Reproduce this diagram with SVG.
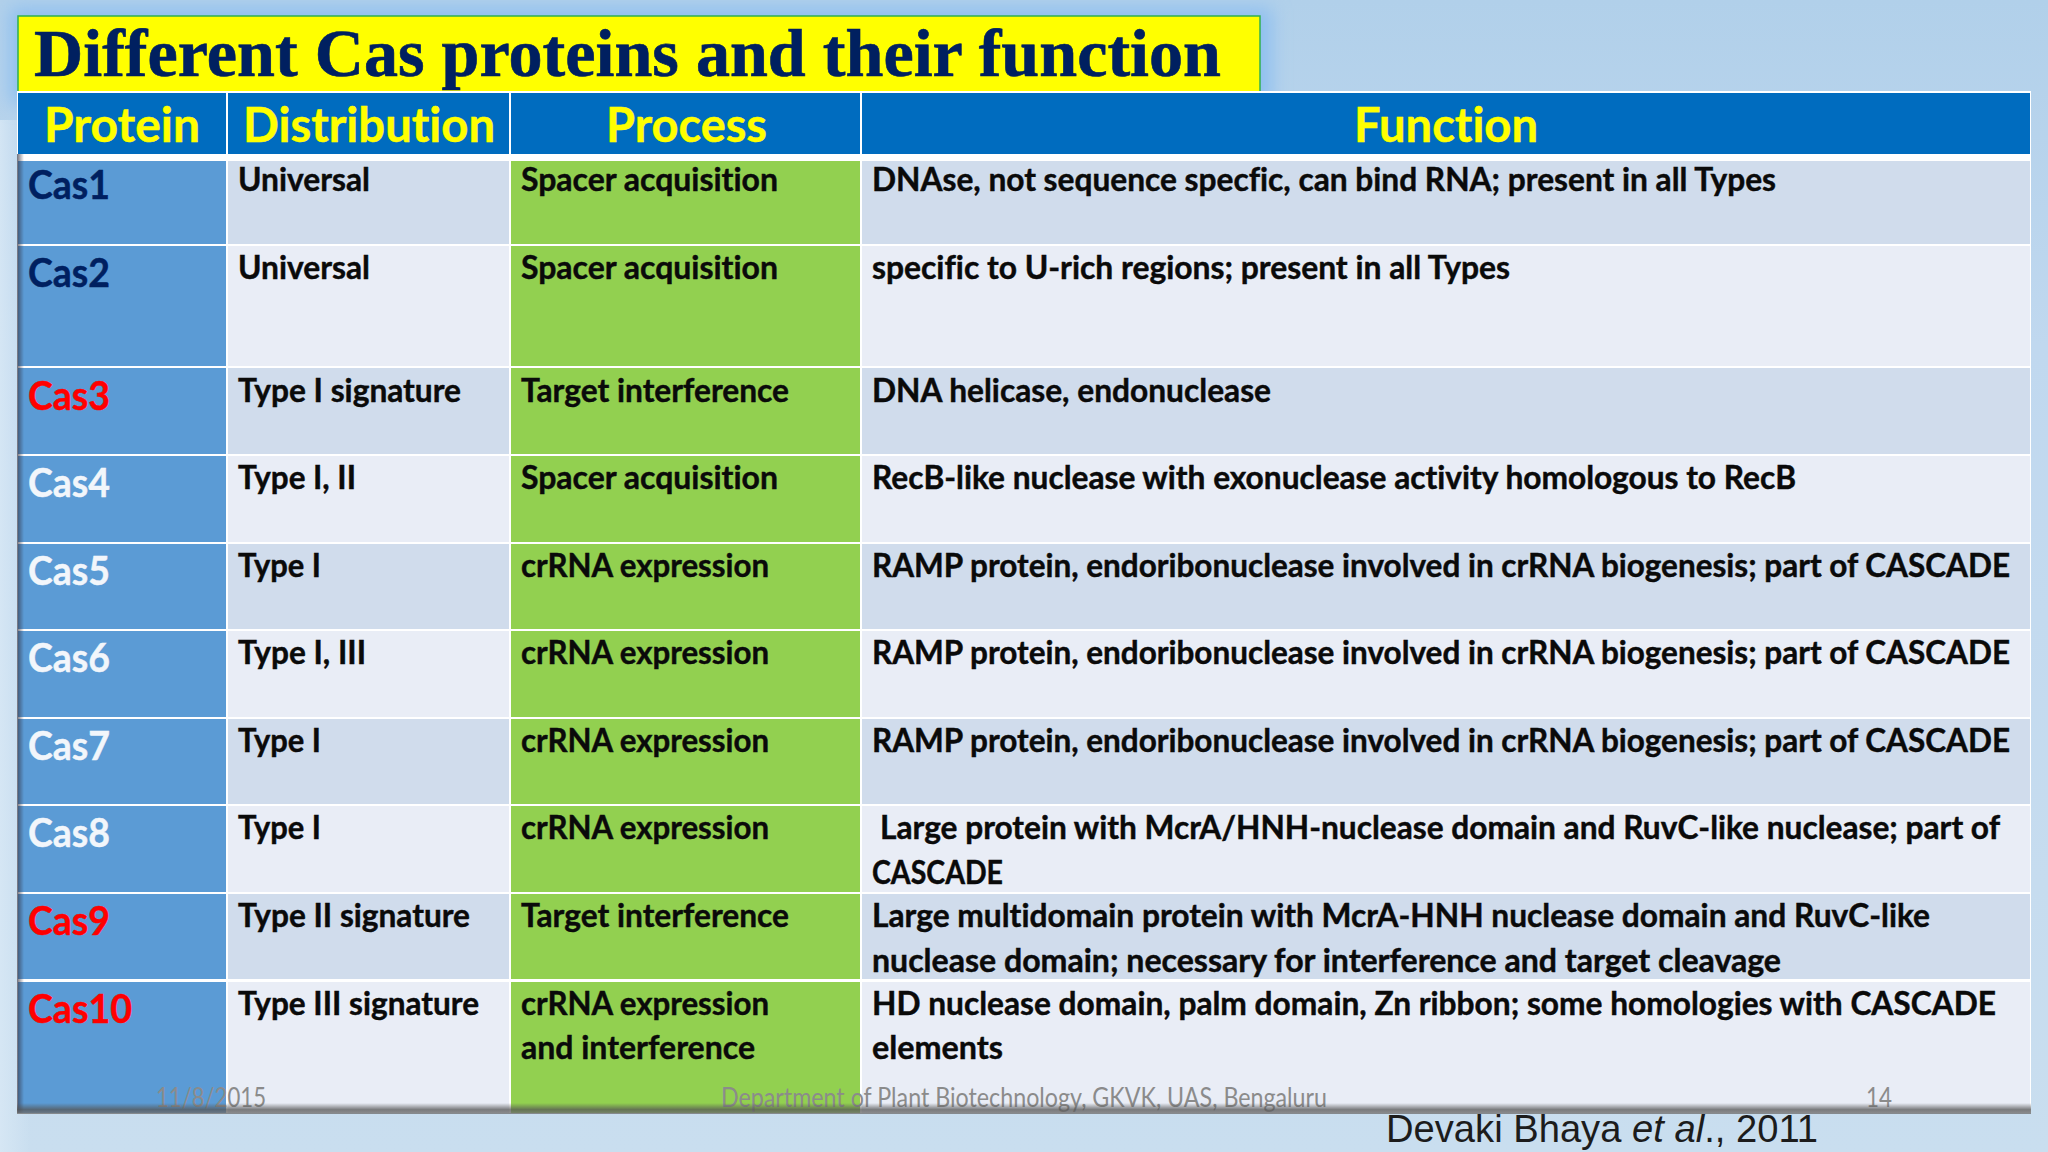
<svg xmlns="http://www.w3.org/2000/svg" width="2048" height="1152" viewBox="0 0 2048 1152">
<style>
text{font-family:"Lato","Liberation Sans",sans-serif;font-weight:700;font-variant-ligatures:none}
.h,.c,.t{transform:translateY(1px);stroke-width:.45px;paint-order:stroke}
.h{font-size:48px;fill:#ffff00;stroke:#ffff00}
.c{font-size:40px}
.t{font-size:33px;fill:#0a0a0a;stroke:#0a0a0a}
.n{fill:#002060;stroke:#002060}.r{fill:#ff0000;stroke:#ff0000}.w{fill:#f2f6fb;stroke:#f2f6fb}
.f{font-size:26px;font-weight:400;fill:#8b8b8b}
.blue{fill:#5b9bd5}.a{fill:#d0dcec}.b{fill:#e9edf6}.g{fill:#92d050}
</style>
<defs>
<linearGradient id="bg" x1="0" y1="0" x2="0" y2="1"><stop offset="0" stop-color="#b1d0ea"/><stop offset=".3" stop-color="#c0d8ef"/><stop offset="1" stop-color="#c9deef"/></linearGradient>
<linearGradient id="side" x1="0" y1="0" x2="1" y2="0"><stop offset="0" stop-color="#d8e8f5" stop-opacity=".85"/><stop offset="1" stop-color="#d8e8f5" stop-opacity="0"/></linearGradient>
<linearGradient id="sh" x1="0" y1="0" x2="0" y2="1"><stop offset="0" stop-color="#555" stop-opacity="0"/><stop offset=".6" stop-color="#555" stop-opacity=".75"/><stop offset="1" stop-color="#777" stop-opacity=".8"/></linearGradient>
<linearGradient id="ls" x1="0" y1="0" x2="1" y2="0"><stop offset="0" stop-color="#334" stop-opacity=".7"/><stop offset="1" stop-color="#334" stop-opacity="0"/></linearGradient>
<filter id="glow" x="-5%" y="-30%" width="110%" height="160%"><feGaussianBlur stdDeviation="9"/></filter>
</defs>
<rect width="2048" height="1152" fill="url(#bg)"/>
<rect x="0" y="120" width="30" height="1032" fill="url(#side)"/>
<rect x="10" y="8" width="1262" height="96" fill="#8fc0f0" filter="url(#glow)"/>
<g id="title">
<rect x="18" y="16" width="1242" height="76" fill="#ffff00" stroke="#2fb04f" stroke-width="1.5"/>
<text x="34" y="76" textLength="1187" lengthAdjust="spacingAndGlyphs" style="font-family:'Liberation Serif',serif;font-size:68px;fill:#002060;stroke:#002060;stroke-width:.6px">Different Cas proteins and their function</text>
</g>
<g id="table">
<rect x="17" y="91" width="2014" height="1022" fill="#fff"/>
<g id="header" fill="#006cbf">
<rect x="18" y="93" width="208" height="61"/><rect x="228" y="93" width="281" height="61"/><rect x="511" y="93" width="349" height="61"/><rect x="862" y="93" width="1168" height="61"/>
<text class="h" x="44" y="141" textLength="156" lengthAdjust="spacingAndGlyphs">Protein</text>
<text class="h" x="243" y="141" textLength="252" lengthAdjust="spacingAndGlyphs">Distribution</text>
<text class="h" x="606" y="141" textLength="161" lengthAdjust="spacingAndGlyphs">Process</text>
<text class="h" x="1354" y="141" textLength="184" lengthAdjust="spacingAndGlyphs">Function</text>
</g>
<g id="cas1"><rect class="blue" x="18" y="161" width="208" height="83"/><rect class="a" x="228" y="161" width="281" height="83"/><rect class="g" x="511" y="161" width="349" height="83"/><rect class="a" x="862" y="161" width="1168" height="83"/>
<text class="c n" x="28" y="198" textLength="82" lengthAdjust="spacingAndGlyphs">Cas1</text><text class="t" x="238" y="190" textLength="132" lengthAdjust="spacingAndGlyphs">Universal</text><text class="t" x="521" y="190" textLength="257" lengthAdjust="spacingAndGlyphs">Spacer acquisition</text><text class="t" x="872" y="190" textLength="904" lengthAdjust="spacingAndGlyphs">DNAse, not sequence specfic, can bind RNA; present in all Types</text></g>
<g id="cas2"><rect class="blue" x="18" y="246" width="208" height="120"/><rect class="b" x="228" y="246" width="281" height="120"/><rect class="g" x="511" y="246" width="349" height="120"/><rect class="b" x="862" y="246" width="1168" height="120"/>
<text class="c n" x="28" y="286" textLength="82" lengthAdjust="spacingAndGlyphs">Cas2</text><text class="t" x="238" y="278" textLength="132" lengthAdjust="spacingAndGlyphs">Universal</text><text class="t" x="521" y="278" textLength="257" lengthAdjust="spacingAndGlyphs">Spacer acquisition</text><text class="t" x="872" y="278" textLength="638" lengthAdjust="spacingAndGlyphs">specific to U-rich regions; present in all Types</text></g>
<g id="cas3"><rect class="blue" x="18" y="368" width="208" height="86"/><rect class="a" x="228" y="368" width="281" height="86"/><rect class="g" x="511" y="368" width="349" height="86"/><rect class="a" x="862" y="368" width="1168" height="86"/>
<text class="c r" x="28" y="409" textLength="82" lengthAdjust="spacingAndGlyphs">Cas3</text><text class="t" x="238" y="401" textLength="223" lengthAdjust="spacingAndGlyphs">Type I signature</text><text class="t" x="521" y="401" textLength="268" lengthAdjust="spacingAndGlyphs">Target interference</text><text class="t" x="872" y="401" textLength="399" lengthAdjust="spacingAndGlyphs">DNA helicase, endonuclease</text></g>
<g id="cas4"><rect class="blue" x="18" y="456" width="208" height="86"/><rect class="b" x="228" y="456" width="281" height="86"/><rect class="g" x="511" y="456" width="349" height="86"/><rect class="b" x="862" y="456" width="1168" height="86"/>
<text class="c w" x="28" y="496" textLength="82" lengthAdjust="spacingAndGlyphs">Cas4</text><text class="t" x="238" y="488" textLength="118" lengthAdjust="spacingAndGlyphs">Type I, II</text><text class="t" x="521" y="488" textLength="257" lengthAdjust="spacingAndGlyphs">Spacer acquisition</text><text class="t" x="872" y="488" textLength="924" lengthAdjust="spacingAndGlyphs">RecB-like nuclease with exonuclease activity homologous to RecB</text></g>
<g id="cas5"><rect class="blue" x="18" y="544" width="208" height="85"/><rect class="a" x="228" y="544" width="281" height="85"/><rect class="g" x="511" y="544" width="349" height="85"/><rect class="a" x="862" y="544" width="1168" height="85"/>
<text class="c w" x="28" y="584" textLength="82" lengthAdjust="spacingAndGlyphs">Cas5</text><text class="t" x="238" y="576" textLength="83" lengthAdjust="spacingAndGlyphs">Type I</text><text class="t" x="521" y="576" textLength="248" lengthAdjust="spacingAndGlyphs">crRNA expression</text><text class="t" x="872" y="576" textLength="1138" lengthAdjust="spacingAndGlyphs">RAMP protein, endoribonuclease involved in crRNA biogenesis; part of CASCADE</text></g>
<g id="cas6"><rect class="blue" x="18" y="631" width="208" height="86"/><rect class="b" x="228" y="631" width="281" height="86"/><rect class="g" x="511" y="631" width="349" height="86"/><rect class="b" x="862" y="631" width="1168" height="86"/>
<text class="c w" x="28" y="671" textLength="82" lengthAdjust="spacingAndGlyphs">Cas6</text><text class="t" x="238" y="663" textLength="128" lengthAdjust="spacingAndGlyphs">Type I, III</text><text class="t" x="521" y="663" textLength="248" lengthAdjust="spacingAndGlyphs">crRNA expression</text><text class="t" x="872" y="663" textLength="1138" lengthAdjust="spacingAndGlyphs">RAMP protein, endoribonuclease involved in crRNA biogenesis; part of CASCADE</text></g>
<g id="cas7"><rect class="blue" x="18" y="719" width="208" height="85"/><rect class="a" x="228" y="719" width="281" height="85"/><rect class="g" x="511" y="719" width="349" height="85"/><rect class="a" x="862" y="719" width="1168" height="85"/>
<text class="c w" x="28" y="759" textLength="82" lengthAdjust="spacingAndGlyphs">Cas7</text><text class="t" x="238" y="751" textLength="83" lengthAdjust="spacingAndGlyphs">Type I</text><text class="t" x="521" y="751" textLength="248" lengthAdjust="spacingAndGlyphs">crRNA expression</text><text class="t" x="872" y="751" textLength="1138" lengthAdjust="spacingAndGlyphs">RAMP protein, endoribonuclease involved in crRNA biogenesis; part of CASCADE</text></g>
<g id="cas8"><rect class="blue" x="18" y="806" width="208" height="86"/><rect class="b" x="228" y="806" width="281" height="86"/><rect class="g" x="511" y="806" width="349" height="86"/><rect class="b" x="862" y="806" width="1168" height="86"/>
<text class="c w" x="28" y="846" textLength="82" lengthAdjust="spacingAndGlyphs">Cas8</text><text class="t" x="238" y="838" textLength="83" lengthAdjust="spacingAndGlyphs">Type I</text><text class="t" x="521" y="838" textLength="248" lengthAdjust="spacingAndGlyphs">crRNA expression</text><text class="t" x="880" y="838" textLength="1120" lengthAdjust="spacingAndGlyphs">Large protein with McrA/HNH-nuclease domain and RuvC-like nuclease; part of</text><text class="t" x="872" y="883" textLength="131" lengthAdjust="spacingAndGlyphs">CASCADE</text></g>
<g id="cas9"><rect class="blue" x="18" y="894" width="208" height="85"/><rect class="a" x="228" y="894" width="281" height="85"/><rect class="g" x="511" y="894" width="349" height="85"/><rect class="a" x="862" y="894" width="1168" height="85"/>
<text class="c r" x="28" y="934" textLength="82" lengthAdjust="spacingAndGlyphs">Cas9</text><text class="t" x="238" y="926" textLength="232" lengthAdjust="spacingAndGlyphs">Type II signature</text><text class="t" x="521" y="926" textLength="268" lengthAdjust="spacingAndGlyphs">Target interference</text><text class="t" x="872" y="926" textLength="1058" lengthAdjust="spacingAndGlyphs">Large multidomain protein with McrA-HNH nuclease domain and RuvC-like</text><text class="t" x="872" y="971" textLength="909" lengthAdjust="spacingAndGlyphs">nuclease domain; necessary for interference and target cleavage</text></g>
<g id="cas10"><rect class="blue" x="18" y="982" width="208" height="131"/><rect class="b" x="228" y="982" width="281" height="131"/><rect class="g" x="511" y="982" width="349" height="131"/><rect class="b" x="862" y="982" width="1168" height="131"/>
<text class="c r" x="28" y="1022" textLength="104" lengthAdjust="spacingAndGlyphs">Cas10</text><text class="t" x="238" y="1014" textLength="241" lengthAdjust="spacingAndGlyphs">Type III signature</text><text class="t" x="521" y="1014" textLength="248" lengthAdjust="spacingAndGlyphs">crRNA expression</text><text class="t" x="521" y="1058" textLength="234" lengthAdjust="spacingAndGlyphs">and interference</text><text class="t" x="872" y="1014" textLength="1124" lengthAdjust="spacingAndGlyphs">HD nuclease domain, palm domain, Zn ribbon; some homologies with CASCADE</text><text class="t" x="872" y="1058" textLength="131" lengthAdjust="spacingAndGlyphs">elements</text></g>
<rect x="17" y="154" width="7" height="959" fill="url(#ls)"/>
</g>
<g id="footer">
<text class="f" x="156" y="1107" textLength="110" lengthAdjust="spacingAndGlyphs">11/8/2015</text>
<text class="f" x="721" y="1107" textLength="606" lengthAdjust="spacingAndGlyphs">Department of Plant Biotechnology, GKVK, UAS, Bengaluru</text>
<text class="f" x="1866" y="1107" textLength="26" lengthAdjust="spacingAndGlyphs">14</text>
</g>
<rect x="17" y="1103" width="2014" height="11" fill="url(#sh)"/>
<text id="citation" x="1386" y="1142" textLength="432" lengthAdjust="spacingAndGlyphs" style="font-family:'Liberation Sans',Arial,sans-serif;font-weight:400;font-size:39px;fill:#1c1c1c">Devaki Bhaya <tspan font-style="italic">et al</tspan>., 2011</text>
</svg>
